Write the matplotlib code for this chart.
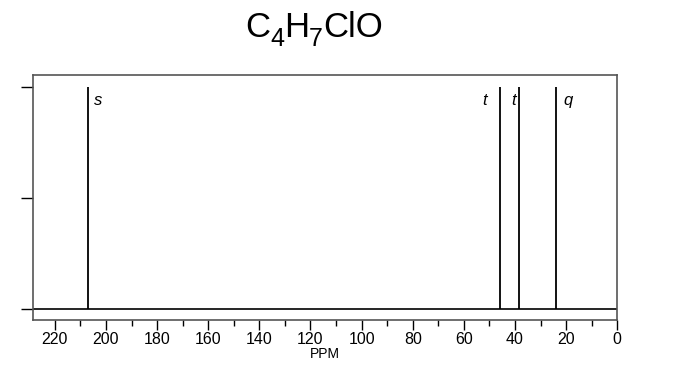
import matplotlib
matplotlib.use('Agg')
import matplotlib.pyplot as plt
from matplotlib.ticker import MultipleLocator
from matplotlib.transforms import offset_copy

plt.rcParams['font.family'] = ['Liberation Sans', 'DejaVu Sans']

# peak data (ppm, multiplicity)
shifts = [207.2, 46.0, 38.3, 23.8]
heights = [1.0, 1.0, 1.0, 1.0]
mults = ['s', 't', 't', 'q']
label_offsets = [-2.3, 5.0, 1.5, -2.8]   # ppm offset of the letter from its line

# formula pieces: (text, is_subscript)
formula = [('C', False), ('4', True), ('H', False), ('7', True), ('ClO', False)]

fig = plt.figure(figsize=(6.85, 3.72), dpi=100)
ax = fig.add_axes([0.048, 0.14, 0.853, 0.658])

ax.axhline(0, color='black', lw=1.2)
ax.vlines(shifts, 0, heights, color='black', lw=1.3)
for x, h, m, off in zip(shifts, heights, mults, label_offsets):
    ax.text(x + off, h - 0.025, m, style='italic', fontsize=12,
            ha='right' if off > 0 else 'left', va='top')

ax.set_xlim(228.6, 0)
ax.set_ylim(-0.05, 1.055)
ax.xaxis.set_major_locator(MultipleLocator(20))
ax.xaxis.set_minor_locator(MultipleLocator(10))
ax.set_yticks([0, 0.5, 1])
ax.set_yticklabels([])
ax.tick_params(axis='x', which='major', length=7, width=1, labelsize=11.5, pad=2)
ax.tick_params(axis='x', which='minor', length=4, width=1)
ax.tick_params(axis='y', length=9, width=1, direction='out')
for s in ax.spines.values():
    s.set_color('#555555')
    s.set_linewidth(1.2)

ax.set_xlabel('PPM', fontsize=10, labelpad=0)

# title with real subscripts, built piece by piece
renderer = fig.canvas.get_renderer()
big, small = 25, 18
pieces = []
x_px = 0.0
for txt, sub in formula:
    t = fig.text(0, 0, txt, fontsize=small if sub else big, va='baseline', ha='left')
    w = t.get_window_extent(renderer).width
    pieces.append((t, x_px, sub))
    x_px += w
start_x = 314 - x_px / 2
base_y = 372 - 37
for t, dx, sub in pieces:
    y = base_y - (9 if sub else 0)
    t.set_position(((start_x + dx) / 685, y / 372))

plt.savefig('out.png', dpi=100)
